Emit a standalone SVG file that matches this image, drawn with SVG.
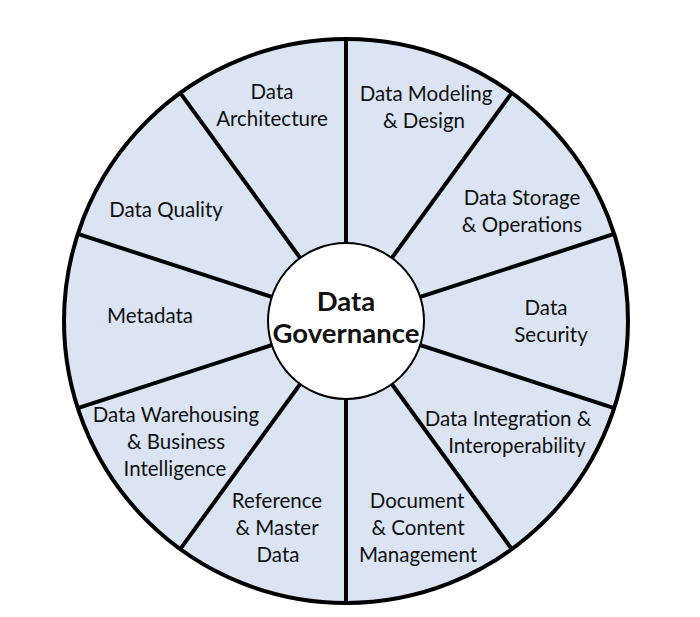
<svg xmlns="http://www.w3.org/2000/svg" width="700" height="617" viewBox="0 0 700 617">
<style>
.w{fill:#dbe4f3;stroke:none}
.t{font-family:Lato,"Open Sans",sans-serif;font-size:20.5px;fill:#111;text-anchor:middle}
.c{font-family:Lato,"Open Sans",sans-serif;font-size:27.5px;font-weight:bold;fill:#111;text-anchor:middle}
.s{stroke:#000;stroke-width:4;stroke-linecap:butt}
</style>
<rect width="700" height="617" fill="#fff"/>
<g id="data-modeling">
<path class="w" d="M346 321 L346 39 A282 282 0 0 1 511.8 92.9 Z"/>
<text class="t" x="426" y="101">Data Modeling</text>
<text class="t" x="424" y="128">&amp; Design</text>
</g>
<g id="data-storage">
<path class="w" d="M346 321 L511.8 92.9 A282 282 0 0 1 614.2 233.9 Z"/>
<text class="t" x="522" y="205">Data Storage</text>
<text class="t" x="522" y="232">&amp; Operations</text>
</g>
<g id="data-security">
<path class="w" d="M346 321 L614.2 233.9 A282 282 0 0 1 614.2 408.1 Z"/>
<text class="t" x="546" y="315">Data</text>
<text class="t" x="551" y="342">Security</text>
</g>
<g id="data-integration">
<path class="w" d="M346 321 L614.2 408.1 A282 282 0 0 1 511.8 549.1 Z"/>
<text class="t" x="508" y="426">Data Integration &amp;</text>
<text class="t" x="517" y="453">Interoperability</text>
</g>
<g id="document-content">
<path class="w" d="M346 321 L511.8 549.1 A282 282 0 0 1 346 603 Z"/>
<text class="t" x="417" y="508">Document</text>
<text class="t" x="418" y="535">&amp; Content</text>
<text class="t" x="418" y="562">Management</text>
</g>
<g id="reference-master">
<path class="w" d="M346 321 L346 603 A282 282 0 0 1 180.2 549.1 Z"/>
<text class="t" x="277" y="508">Reference</text>
<text class="t" x="277" y="535">&amp; Master</text>
<text class="t" x="278" y="562">Data</text>
</g>
<g id="data-warehousing">
<path class="w" d="M346 321 L180.2 549.1 A282 282 0 0 1 77.8 408.1 Z"/>
<text class="t" x="176" y="422">Data Warehousing</text>
<text class="t" x="176" y="449">&amp; Business</text>
<text class="t" x="175" y="476">Intelligence</text>
</g>
<g id="metadata">
<path class="w" d="M346 321 L77.8 408.1 A282 282 0 0 1 77.8 233.9 Z"/>
<text class="t" x="150" y="323">Metadata</text>
</g>
<g id="data-quality">
<path class="w" d="M346 321 L77.8 233.9 A282 282 0 0 1 180.2 92.9 Z"/>
<text class="t" x="166" y="217">Data Quality</text>
</g>
<g id="data-architecture">
<path class="w" d="M346 321 L180.2 92.9 A282 282 0 0 1 346 39 Z"/>
<text class="t" x="272" y="99">Data</text>
<text class="t" x="272" y="126">Architecture</text>
</g>
<g id="spokes">
<line class="s" x1="346" y1="321" x2="346" y2="39"/>
<line class="s" x1="346" y1="321" x2="511.8" y2="92.9"/>
<line class="s" x1="346" y1="321" x2="614.2" y2="233.9"/>
<line class="s" x1="346" y1="321" x2="614.2" y2="408.1"/>
<line class="s" x1="346" y1="321" x2="511.8" y2="549.1"/>
<line class="s" x1="346" y1="321" x2="346" y2="603"/>
<line class="s" x1="346" y1="321" x2="180.2" y2="549.1"/>
<line class="s" x1="346" y1="321" x2="77.8" y2="408.1"/>
<line class="s" x1="346" y1="321" x2="77.8" y2="233.9"/>
<line class="s" x1="346" y1="321" x2="180.2" y2="92.9"/>
</g>
<circle cx="346" cy="321" r="282" fill="none" stroke="#000" stroke-width="4"/>
<g id="data-governance">
<circle cx="346" cy="321" r="78" fill="#fff" stroke="#000" stroke-width="2"/>
<text class="c" x="346" y="311">Data</text>
<text class="c" x="346" y="343">Governance</text>
</g>
</svg>
